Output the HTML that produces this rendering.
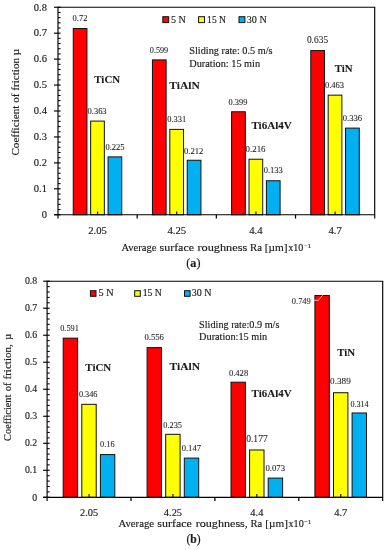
<!DOCTYPE html>
<html lang="en"><head><meta charset="utf-8"><title>Coefficient of friction</title>
<style>
html,body{margin:0;padding:0;background:#fff;}
body{width:386px;height:550px;overflow:hidden;}
svg{display:block;font-family:"Liberation Serif","DejaVu Serif",serif;fill:#1a1a1a;}
text{stroke:#1a1a1a;stroke-width:0.15px;}
text.dl{stroke:#1c1c1c;stroke-width:0.08px;}
</style></head><body>
<svg width="386" height="550" viewBox="0 0 386 550">
<rect x="0" y="0" width="386" height="550" fill="#ffffff"/>
<rect x="73.25" y="28.50" width="13.70" height="186.25" fill="#ff0000" stroke="#111" stroke-width="1"/>
<rect x="90.65" y="121.10" width="13.70" height="93.65" fill="#ffff00" stroke="#111" stroke-width="1"/>
<rect x="108.05" y="156.89" width="13.70" height="57.86" fill="#00b0f0" stroke="#111" stroke-width="1"/>
<line x1="97.59" y1="211.55" x2="97.59" y2="214.75" stroke="#000" stroke-width="1.1"/>
<rect x="152.43" y="59.88" width="13.70" height="154.87" fill="#ff0000" stroke="#111" stroke-width="1"/>
<rect x="169.83" y="129.40" width="13.70" height="85.35" fill="#ffff00" stroke="#111" stroke-width="1"/>
<rect x="187.23" y="160.26" width="13.70" height="54.49" fill="#00b0f0" stroke="#111" stroke-width="1"/>
<line x1="176.76" y1="211.55" x2="176.76" y2="214.75" stroke="#000" stroke-width="1.1"/>
<rect x="231.60" y="111.76" width="13.70" height="102.99" fill="#ff0000" stroke="#111" stroke-width="1"/>
<rect x="249.00" y="159.22" width="13.70" height="55.53" fill="#ffff00" stroke="#111" stroke-width="1"/>
<rect x="266.40" y="180.75" width="13.70" height="34.00" fill="#00b0f0" stroke="#111" stroke-width="1"/>
<line x1="255.94" y1="211.55" x2="255.94" y2="214.75" stroke="#000" stroke-width="1.1"/>
<rect x="310.77" y="50.55" width="13.70" height="164.20" fill="#ff0000" stroke="#111" stroke-width="1"/>
<rect x="328.17" y="95.16" width="13.70" height="119.59" fill="#ffff00" stroke="#111" stroke-width="1"/>
<rect x="345.57" y="128.10" width="13.70" height="86.65" fill="#00b0f0" stroke="#111" stroke-width="1"/>
<line x1="335.11" y1="211.55" x2="335.11" y2="214.75" stroke="#000" stroke-width="1.1"/>
<line x1="57.50" y1="7.25" x2="375.20" y2="7.25" stroke="#000" stroke-width="1.15"/>
<line x1="374.70" y1="7.25" x2="374.70" y2="218.45" stroke="#000" stroke-width="1.15"/>
<line x1="54.00" y1="214.75" x2="374.70" y2="214.75" stroke="#000" stroke-width="1.15"/>
<line x1="58.00" y1="7.25" x2="58.00" y2="218.45" stroke="#000" stroke-width="1.15"/>
<line x1="54.00" y1="214.75" x2="60.60" y2="214.75" stroke="#000" stroke-width="1.15"/>
<line x1="58.00" y1="209.56" x2="60.60" y2="209.56" stroke="#000" stroke-width="1.05"/>
<line x1="58.00" y1="204.38" x2="60.60" y2="204.38" stroke="#000" stroke-width="1.05"/>
<line x1="58.00" y1="199.19" x2="60.60" y2="199.19" stroke="#000" stroke-width="1.05"/>
<line x1="58.00" y1="194.00" x2="60.60" y2="194.00" stroke="#000" stroke-width="1.05"/>
<line x1="54.00" y1="188.81" x2="60.60" y2="188.81" stroke="#000" stroke-width="1.15"/>
<line x1="58.00" y1="183.62" x2="60.60" y2="183.62" stroke="#000" stroke-width="1.05"/>
<line x1="58.00" y1="178.44" x2="60.60" y2="178.44" stroke="#000" stroke-width="1.05"/>
<line x1="58.00" y1="173.25" x2="60.60" y2="173.25" stroke="#000" stroke-width="1.05"/>
<line x1="58.00" y1="168.06" x2="60.60" y2="168.06" stroke="#000" stroke-width="1.05"/>
<line x1="54.00" y1="162.88" x2="60.60" y2="162.88" stroke="#000" stroke-width="1.15"/>
<line x1="58.00" y1="157.69" x2="60.60" y2="157.69" stroke="#000" stroke-width="1.05"/>
<line x1="58.00" y1="152.50" x2="60.60" y2="152.50" stroke="#000" stroke-width="1.05"/>
<line x1="58.00" y1="147.31" x2="60.60" y2="147.31" stroke="#000" stroke-width="1.05"/>
<line x1="58.00" y1="142.12" x2="60.60" y2="142.12" stroke="#000" stroke-width="1.05"/>
<line x1="54.00" y1="136.94" x2="60.60" y2="136.94" stroke="#000" stroke-width="1.15"/>
<line x1="58.00" y1="131.75" x2="60.60" y2="131.75" stroke="#000" stroke-width="1.05"/>
<line x1="58.00" y1="126.56" x2="60.60" y2="126.56" stroke="#000" stroke-width="1.05"/>
<line x1="58.00" y1="121.38" x2="60.60" y2="121.38" stroke="#000" stroke-width="1.05"/>
<line x1="58.00" y1="116.19" x2="60.60" y2="116.19" stroke="#000" stroke-width="1.05"/>
<line x1="54.00" y1="111.00" x2="60.60" y2="111.00" stroke="#000" stroke-width="1.15"/>
<line x1="58.00" y1="105.81" x2="60.60" y2="105.81" stroke="#000" stroke-width="1.05"/>
<line x1="58.00" y1="100.62" x2="60.60" y2="100.62" stroke="#000" stroke-width="1.05"/>
<line x1="58.00" y1="95.44" x2="60.60" y2="95.44" stroke="#000" stroke-width="1.05"/>
<line x1="58.00" y1="90.25" x2="60.60" y2="90.25" stroke="#000" stroke-width="1.05"/>
<line x1="54.00" y1="85.06" x2="60.60" y2="85.06" stroke="#000" stroke-width="1.15"/>
<line x1="58.00" y1="79.88" x2="60.60" y2="79.88" stroke="#000" stroke-width="1.05"/>
<line x1="58.00" y1="74.69" x2="60.60" y2="74.69" stroke="#000" stroke-width="1.05"/>
<line x1="58.00" y1="69.50" x2="60.60" y2="69.50" stroke="#000" stroke-width="1.05"/>
<line x1="58.00" y1="64.31" x2="60.60" y2="64.31" stroke="#000" stroke-width="1.05"/>
<line x1="54.00" y1="59.12" x2="60.60" y2="59.12" stroke="#000" stroke-width="1.15"/>
<line x1="58.00" y1="53.94" x2="60.60" y2="53.94" stroke="#000" stroke-width="1.05"/>
<line x1="58.00" y1="48.75" x2="60.60" y2="48.75" stroke="#000" stroke-width="1.05"/>
<line x1="58.00" y1="43.56" x2="60.60" y2="43.56" stroke="#000" stroke-width="1.05"/>
<line x1="58.00" y1="38.38" x2="60.60" y2="38.38" stroke="#000" stroke-width="1.05"/>
<line x1="54.00" y1="33.19" x2="60.60" y2="33.19" stroke="#000" stroke-width="1.15"/>
<line x1="58.00" y1="28.00" x2="60.60" y2="28.00" stroke="#000" stroke-width="1.05"/>
<line x1="58.00" y1="22.81" x2="60.60" y2="22.81" stroke="#000" stroke-width="1.05"/>
<line x1="58.00" y1="17.62" x2="60.60" y2="17.62" stroke="#000" stroke-width="1.05"/>
<line x1="58.00" y1="12.44" x2="60.60" y2="12.44" stroke="#000" stroke-width="1.05"/>
<line x1="54.00" y1="7.25" x2="60.60" y2="7.25" stroke="#000" stroke-width="1.15"/>
<line x1="137.18" y1="214.75" x2="137.18" y2="218.55" stroke="#000" stroke-width="1.25"/>
<line x1="216.35" y1="214.75" x2="216.35" y2="218.55" stroke="#000" stroke-width="1.25"/>
<line x1="295.52" y1="214.75" x2="295.52" y2="218.55" stroke="#000" stroke-width="1.25"/>
<text x="46.90" y="218.05" font-size="10.5" text-anchor="end">0</text>
<text x="46.90" y="192.11" font-size="10.5" text-anchor="end">0.1</text>
<text x="46.90" y="166.18" font-size="10.5" text-anchor="end">0.2</text>
<text x="46.90" y="140.24" font-size="10.5" text-anchor="end">0.3</text>
<text x="46.90" y="114.30" font-size="10.5" text-anchor="end">0.4</text>
<text x="46.90" y="88.36" font-size="10.5" text-anchor="end">0.5</text>
<text x="46.90" y="62.42" font-size="10.5" text-anchor="end">0.6</text>
<text x="46.90" y="36.49" font-size="10.5" text-anchor="end">0.7</text>
<text x="46.90" y="10.55" font-size="10.5" text-anchor="end">0.8</text>
<text x="97.59" y="233.90" font-size="10.7" text-anchor="middle">2.05</text>
<text x="176.76" y="233.90" font-size="10.7" text-anchor="middle">4.25</text>
<text x="255.94" y="233.90" font-size="10.7" text-anchor="middle">4.4</text>
<text x="335.11" y="233.90" font-size="10.7" text-anchor="middle">4.7</text>
<rect x="162.80" y="16.70" width="5.90" height="5.90" fill="#ff0000" stroke="#111" stroke-width="1"/>
<text x="171.00" y="22.90" font-size="10" textLength="14.80" lengthAdjust="spacingAndGlyphs">5 N</text>
<rect x="198.60" y="16.70" width="5.90" height="5.90" fill="#ffff00" stroke="#111" stroke-width="1"/>
<text x="207.10" y="22.90" font-size="10" textLength="18.90" lengthAdjust="spacingAndGlyphs">15 N</text>
<rect x="239.00" y="16.70" width="5.90" height="5.90" fill="#00b0f0" stroke="#111" stroke-width="1"/>
<text x="246.80" y="22.90" font-size="10" textLength="20.00" lengthAdjust="spacingAndGlyphs">30 N</text>
<text x="189.30" y="53.60" font-size="10" textLength="83.30" lengthAdjust="spacingAndGlyphs">Sliding rate: 0.5 m/s</text>
<text x="189.30" y="66.70" font-size="10" textLength="70.80" lengthAdjust="spacingAndGlyphs">Duration: 15 min</text>
<text x="94.30" y="82.70" font-size="11" font-weight="bold" class="dl" textLength="25.80" lengthAdjust="spacingAndGlyphs">TiCN</text>
<text x="169.30" y="89.00" font-size="11" font-weight="bold" class="dl" textLength="30.40" lengthAdjust="spacingAndGlyphs">TiAlN</text>
<text x="251.40" y="129.20" font-size="11" font-weight="bold" class="dl" textLength="40.40" lengthAdjust="spacingAndGlyphs">Ti6Al4V</text>
<text x="334.80" y="71.60" font-size="11" font-weight="bold" class="dl" textLength="17.90" lengthAdjust="spacingAndGlyphs">TiN</text>
<text x="72.60" y="21.40" font-size="8.5" textLength="14.80" lengthAdjust="spacingAndGlyphs" fill="#1c1c1c" class="dl">0.72</text>
<text x="87.60" y="113.90" font-size="8.5" textLength="19.00" lengthAdjust="spacingAndGlyphs" fill="#1c1c1c" class="dl">0.363</text>
<text x="105.40" y="149.50" font-size="8.5" textLength="19.20" lengthAdjust="spacingAndGlyphs" fill="#1c1c1c" class="dl">0.225</text>
<text x="149.80" y="53.10" font-size="8.3" textLength="18.40" lengthAdjust="spacingAndGlyphs" fill="#1c1c1c" class="dl">0.599</text>
<text x="167.20" y="122.30" font-size="8.5" textLength="18.90" lengthAdjust="spacingAndGlyphs" fill="#1c1c1c" class="dl">0.331</text>
<text x="184.00" y="153.90" font-size="8.5" textLength="19.40" lengthAdjust="spacingAndGlyphs" fill="#1c1c1c" class="dl">0.212</text>
<text x="228.60" y="104.90" font-size="8.5" textLength="18.80" lengthAdjust="spacingAndGlyphs" fill="#1c1c1c" class="dl">0.399</text>
<text x="245.60" y="151.60" font-size="8.8" textLength="19.90" lengthAdjust="spacingAndGlyphs" fill="#1c1c1c" class="dl">0.216</text>
<text x="263.70" y="173.40" font-size="8.5" textLength="19.20" lengthAdjust="spacingAndGlyphs" fill="#1c1c1c" class="dl">0.133</text>
<text x="306.90" y="42.90" font-size="9.5" textLength="21.20" lengthAdjust="spacingAndGlyphs" fill="#1c1c1c" class="dl">0.635</text>
<text x="324.90" y="88.40" font-size="8.5" textLength="19.20" lengthAdjust="spacingAndGlyphs" fill="#1c1c1c" class="dl">0.463</text>
<text x="342.70" y="120.70" font-size="8.5" textLength="19.40" lengthAdjust="spacingAndGlyphs" fill="#1c1c1c" class="dl">0.336</text>
<text x="121.40" y="250.70" font-size="10.3" textLength="35.10" lengthAdjust="spacingAndGlyphs">Average</text>
<text x="159.60" y="250.70" font-size="10.3" textLength="34.40" lengthAdjust="spacingAndGlyphs">surface</text>
<text x="197.40" y="250.70" font-size="10.3" textLength="49.90" lengthAdjust="spacingAndGlyphs">roughness</text>
<text x="250.00" y="250.70" font-size="10.3" textLength="12.00" lengthAdjust="spacingAndGlyphs">Ra</text>
<text x="264.80" y="250.70" font-size="10.3" textLength="22.80" lengthAdjust="spacingAndGlyphs">[µm]</text>
<text x="288.20" y="250.70" font-size="10.3" textLength="15.10" lengthAdjust="spacingAndGlyphs">x10</text>
<text x="304.00" y="248.20" font-size="6.2" textLength="7.00" lengthAdjust="spacingAndGlyphs">−1</text>
<text transform="translate(19.1,155.6) rotate(-90)" font-size="10.9" textLength="106.9" lengthAdjust="spacingAndGlyphs">Coefficient of friction µ</text>
<text x="186.3" y="267.0" font-size="11.5" textLength="14.2" lengthAdjust="spacingAndGlyphs">(<tspan font-weight="bold">a</tspan>)</text>
<rect x="63.20" y="338.16" width="14.40" height="159.14" fill="#ff0000" stroke="#111" stroke-width="1"/>
<rect x="81.80" y="404.34" width="14.40" height="92.96" fill="#ffff00" stroke="#111" stroke-width="1"/>
<rect x="100.40" y="454.58" width="14.40" height="42.72" fill="#00b0f0" stroke="#111" stroke-width="1"/>
<line x1="89.05" y1="494.10" x2="89.05" y2="497.30" stroke="#000" stroke-width="1.1"/>
<rect x="147.10" y="347.61" width="14.40" height="149.69" fill="#ff0000" stroke="#111" stroke-width="1"/>
<rect x="165.70" y="434.32" width="14.40" height="62.98" fill="#ffff00" stroke="#111" stroke-width="1"/>
<rect x="184.30" y="458.09" width="14.40" height="39.21" fill="#00b0f0" stroke="#111" stroke-width="1"/>
<line x1="172.95" y1="494.10" x2="172.95" y2="497.30" stroke="#000" stroke-width="1.1"/>
<rect x="231.00" y="382.19" width="14.40" height="115.11" fill="#ff0000" stroke="#111" stroke-width="1"/>
<rect x="249.60" y="449.99" width="14.40" height="47.31" fill="#ffff00" stroke="#111" stroke-width="1"/>
<rect x="268.20" y="478.08" width="14.40" height="19.22" fill="#00b0f0" stroke="#111" stroke-width="1"/>
<line x1="256.85" y1="494.10" x2="256.85" y2="497.30" stroke="#000" stroke-width="1.1"/>
<rect x="314.90" y="295.48" width="14.40" height="201.82" fill="#ff0000" stroke="#111" stroke-width="1"/>
<rect x="333.50" y="392.72" width="14.40" height="104.58" fill="#ffff00" stroke="#111" stroke-width="1"/>
<rect x="352.10" y="412.98" width="14.40" height="84.32" fill="#00b0f0" stroke="#111" stroke-width="1"/>
<line x1="340.75" y1="494.10" x2="340.75" y2="497.30" stroke="#000" stroke-width="1.1"/>
<line x1="46.60" y1="281.20" x2="383.20" y2="281.20" stroke="#000" stroke-width="1.15"/>
<line x1="382.70" y1="281.20" x2="382.70" y2="501.00" stroke="#000" stroke-width="1.15"/>
<line x1="43.10" y1="497.30" x2="382.70" y2="497.30" stroke="#000" stroke-width="1.15"/>
<line x1="47.10" y1="281.20" x2="47.10" y2="501.00" stroke="#000" stroke-width="1.15"/>
<line x1="43.10" y1="497.30" x2="49.70" y2="497.30" stroke="#000" stroke-width="1.15"/>
<line x1="47.10" y1="491.90" x2="49.70" y2="491.90" stroke="#000" stroke-width="1.05"/>
<line x1="47.10" y1="486.50" x2="49.70" y2="486.50" stroke="#000" stroke-width="1.05"/>
<line x1="47.10" y1="481.09" x2="49.70" y2="481.09" stroke="#000" stroke-width="1.05"/>
<line x1="47.10" y1="475.69" x2="49.70" y2="475.69" stroke="#000" stroke-width="1.05"/>
<line x1="43.10" y1="470.29" x2="49.70" y2="470.29" stroke="#000" stroke-width="1.15"/>
<line x1="47.10" y1="464.88" x2="49.70" y2="464.88" stroke="#000" stroke-width="1.05"/>
<line x1="47.10" y1="459.48" x2="49.70" y2="459.48" stroke="#000" stroke-width="1.05"/>
<line x1="47.10" y1="454.08" x2="49.70" y2="454.08" stroke="#000" stroke-width="1.05"/>
<line x1="47.10" y1="448.68" x2="49.70" y2="448.68" stroke="#000" stroke-width="1.05"/>
<line x1="43.10" y1="443.28" x2="49.70" y2="443.28" stroke="#000" stroke-width="1.15"/>
<line x1="47.10" y1="437.87" x2="49.70" y2="437.87" stroke="#000" stroke-width="1.05"/>
<line x1="47.10" y1="432.47" x2="49.70" y2="432.47" stroke="#000" stroke-width="1.05"/>
<line x1="47.10" y1="427.07" x2="49.70" y2="427.07" stroke="#000" stroke-width="1.05"/>
<line x1="47.10" y1="421.67" x2="49.70" y2="421.67" stroke="#000" stroke-width="1.05"/>
<line x1="43.10" y1="416.26" x2="49.70" y2="416.26" stroke="#000" stroke-width="1.15"/>
<line x1="47.10" y1="410.86" x2="49.70" y2="410.86" stroke="#000" stroke-width="1.05"/>
<line x1="47.10" y1="405.46" x2="49.70" y2="405.46" stroke="#000" stroke-width="1.05"/>
<line x1="47.10" y1="400.06" x2="49.70" y2="400.06" stroke="#000" stroke-width="1.05"/>
<line x1="47.10" y1="394.65" x2="49.70" y2="394.65" stroke="#000" stroke-width="1.05"/>
<line x1="43.10" y1="389.25" x2="49.70" y2="389.25" stroke="#000" stroke-width="1.15"/>
<line x1="47.10" y1="383.85" x2="49.70" y2="383.85" stroke="#000" stroke-width="1.05"/>
<line x1="47.10" y1="378.44" x2="49.70" y2="378.44" stroke="#000" stroke-width="1.05"/>
<line x1="47.10" y1="373.04" x2="49.70" y2="373.04" stroke="#000" stroke-width="1.05"/>
<line x1="47.10" y1="367.64" x2="49.70" y2="367.64" stroke="#000" stroke-width="1.05"/>
<line x1="43.10" y1="362.24" x2="49.70" y2="362.24" stroke="#000" stroke-width="1.15"/>
<line x1="47.10" y1="356.84" x2="49.70" y2="356.84" stroke="#000" stroke-width="1.05"/>
<line x1="47.10" y1="351.43" x2="49.70" y2="351.43" stroke="#000" stroke-width="1.05"/>
<line x1="47.10" y1="346.03" x2="49.70" y2="346.03" stroke="#000" stroke-width="1.05"/>
<line x1="47.10" y1="340.63" x2="49.70" y2="340.63" stroke="#000" stroke-width="1.05"/>
<line x1="43.10" y1="335.23" x2="49.70" y2="335.23" stroke="#000" stroke-width="1.15"/>
<line x1="47.10" y1="329.82" x2="49.70" y2="329.82" stroke="#000" stroke-width="1.05"/>
<line x1="47.10" y1="324.42" x2="49.70" y2="324.42" stroke="#000" stroke-width="1.05"/>
<line x1="47.10" y1="319.02" x2="49.70" y2="319.02" stroke="#000" stroke-width="1.05"/>
<line x1="47.10" y1="313.62" x2="49.70" y2="313.62" stroke="#000" stroke-width="1.05"/>
<line x1="43.10" y1="308.21" x2="49.70" y2="308.21" stroke="#000" stroke-width="1.15"/>
<line x1="47.10" y1="302.81" x2="49.70" y2="302.81" stroke="#000" stroke-width="1.05"/>
<line x1="47.10" y1="297.41" x2="49.70" y2="297.41" stroke="#000" stroke-width="1.05"/>
<line x1="47.10" y1="292.00" x2="49.70" y2="292.00" stroke="#000" stroke-width="1.05"/>
<line x1="47.10" y1="286.60" x2="49.70" y2="286.60" stroke="#000" stroke-width="1.05"/>
<line x1="43.10" y1="281.20" x2="49.70" y2="281.20" stroke="#000" stroke-width="1.15"/>
<line x1="131.00" y1="497.30" x2="131.00" y2="501.10" stroke="#000" stroke-width="1.25"/>
<line x1="214.90" y1="497.30" x2="214.90" y2="501.10" stroke="#000" stroke-width="1.25"/>
<line x1="298.80" y1="497.30" x2="298.80" y2="501.10" stroke="#000" stroke-width="1.25"/>
<text x="37.20" y="500.50" font-size="9.8" text-anchor="end">0</text>
<text x="37.20" y="473.49" font-size="9.8" text-anchor="end">0.1</text>
<text x="37.20" y="446.47" font-size="9.8" text-anchor="end">0.2</text>
<text x="37.20" y="419.46" font-size="9.8" text-anchor="end">0.3</text>
<text x="37.20" y="392.45" font-size="9.8" text-anchor="end">0.4</text>
<text x="37.20" y="365.44" font-size="9.8" text-anchor="end">0.5</text>
<text x="37.20" y="338.43" font-size="9.8" text-anchor="end">0.6</text>
<text x="37.20" y="311.41" font-size="9.8" text-anchor="end">0.7</text>
<text x="37.20" y="284.40" font-size="9.8" text-anchor="end">0.8</text>
<text x="89.05" y="515.70" font-size="10.4" text-anchor="middle">2.05</text>
<text x="172.95" y="515.70" font-size="10.4" text-anchor="middle">4.25</text>
<text x="256.85" y="515.70" font-size="10.4" text-anchor="middle">4.4</text>
<text x="340.75" y="515.70" font-size="10.4" text-anchor="middle">4.7</text>
<polyline points="313.9,300.3 318.4,300.3 322.6,295.2" fill="none" stroke="#f4d6d6" stroke-width="0.9"/>
<rect x="90.40" y="290.70" width="5.60" height="5.60" fill="#ff0000" stroke="#111" stroke-width="1"/>
<text x="98.50" y="296.00" font-size="9.8" textLength="15.00" lengthAdjust="spacingAndGlyphs">5 N</text>
<rect x="134.70" y="290.70" width="5.60" height="5.60" fill="#ffff00" stroke="#111" stroke-width="1"/>
<text x="142.70" y="296.00" font-size="9.8" textLength="19.20" lengthAdjust="spacingAndGlyphs">15 N</text>
<rect x="184.50" y="290.70" width="5.60" height="5.60" fill="#00b0f0" stroke="#111" stroke-width="1"/>
<text x="191.80" y="296.00" font-size="9.8" textLength="19.80" lengthAdjust="spacingAndGlyphs">30 N</text>
<text x="199.10" y="328.10" font-size="10" textLength="80.30" lengthAdjust="spacingAndGlyphs">Sliding rate:0.9 m/s</text>
<text x="199.10" y="340.30" font-size="10" textLength="68.10" lengthAdjust="spacingAndGlyphs">Duration:15 min</text>
<text x="85.30" y="371.00" font-size="11" font-weight="bold" class="dl" textLength="25.90" lengthAdjust="spacingAndGlyphs">TiCN</text>
<text x="169.60" y="370.10" font-size="11" font-weight="bold" class="dl" textLength="30.50" lengthAdjust="spacingAndGlyphs">TiAlN</text>
<text x="251.60" y="396.50" font-size="11" font-weight="bold" class="dl" textLength="40.00" lengthAdjust="spacingAndGlyphs">Ti6Al4V</text>
<text x="337.30" y="356.00" font-size="11" font-weight="bold" class="dl" textLength="17.90" lengthAdjust="spacingAndGlyphs">TiN</text>
<text x="60.20" y="330.90" font-size="8.5" textLength="18.70" lengthAdjust="spacingAndGlyphs" fill="#1c1c1c" class="dl">0.591</text>
<text x="78.90" y="397.00" font-size="8.5" textLength="18.60" lengthAdjust="spacingAndGlyphs" fill="#1c1c1c" class="dl">0.346</text>
<text x="100.10" y="447.10" font-size="8.5" textLength="14.50" lengthAdjust="spacingAndGlyphs" fill="#1c1c1c" class="dl">0.16</text>
<text x="144.40" y="340.30" font-size="8.5" textLength="19.50" lengthAdjust="spacingAndGlyphs" fill="#1c1c1c" class="dl">0.556</text>
<text x="163.30" y="427.60" font-size="8.5" textLength="18.70" lengthAdjust="spacingAndGlyphs" fill="#1c1c1c" class="dl">0.235</text>
<text x="181.70" y="450.70" font-size="8.5" textLength="19.30" lengthAdjust="spacingAndGlyphs" fill="#1c1c1c" class="dl">0.147</text>
<text x="228.90" y="375.80" font-size="8.5" textLength="19.30" lengthAdjust="spacingAndGlyphs" fill="#1c1c1c" class="dl">0.428</text>
<text x="246.20" y="442.00" font-size="9.5" textLength="21.50" lengthAdjust="spacingAndGlyphs" fill="#1c1c1c" class="dl">0.177</text>
<text x="265.40" y="470.90" font-size="8.5" textLength="19.60" lengthAdjust="spacingAndGlyphs" fill="#1c1c1c" class="dl">0.073</text>
<text x="291.80" y="303.60" font-size="8.5" textLength="19.00" lengthAdjust="spacingAndGlyphs" fill="#1c1c1c" class="dl">0.749</text>
<text x="330.10" y="384.00" font-size="9.2" textLength="20.70" lengthAdjust="spacingAndGlyphs" fill="#1c1c1c" class="dl">0.389</text>
<text x="350.40" y="407.10" font-size="8.5" textLength="18.30" lengthAdjust="spacingAndGlyphs" fill="#1c1c1c" class="dl">0.314</text>
<text x="118.50" y="526.80" font-size="10.3" textLength="35.50" lengthAdjust="spacingAndGlyphs">Average</text>
<text x="157.30" y="526.80" font-size="10.3" textLength="34.50" lengthAdjust="spacingAndGlyphs">surface</text>
<text x="195.70" y="526.80" font-size="10.3" textLength="52.20" lengthAdjust="spacingAndGlyphs">roughness,</text>
<text x="250.40" y="526.80" font-size="10.3" textLength="11.80" lengthAdjust="spacingAndGlyphs">Ra</text>
<text x="265.30" y="526.80" font-size="10.3" textLength="22.60" lengthAdjust="spacingAndGlyphs">[µm]</text>
<text x="288.50" y="526.80" font-size="10.3" textLength="15.20" lengthAdjust="spacingAndGlyphs">x10</text>
<text x="304.20" y="524.40" font-size="6.5" textLength="7.00" lengthAdjust="spacingAndGlyphs">−1</text>
<g transform="translate(10.9,440.9) rotate(-90)">
<text x="0.00" y="0.00" font-size="10.3" textLength="46.30" lengthAdjust="spacingAndGlyphs">Coefficient</text>
<text x="49.60" y="0.00" font-size="10.3" textLength="8.80" lengthAdjust="spacingAndGlyphs">of</text>
<text x="61.40" y="0.00" font-size="10.3" textLength="35.30" lengthAdjust="spacingAndGlyphs">friction,</text>
<text x="101.10" y="0.00" font-size="10.3">µ</text>
</g>
<text x="186.4" y="543.3" font-size="11.5" textLength="14.2" lengthAdjust="spacingAndGlyphs">(<tspan font-weight="bold">b</tspan>)</text>
</svg></body></html>
